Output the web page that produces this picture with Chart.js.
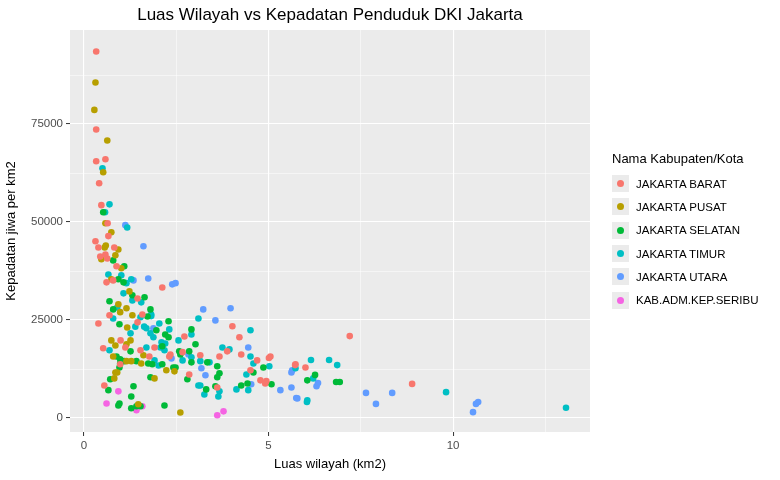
<!DOCTYPE html>
<html><head><meta charset="utf-8">
<script src="https://cdn.jsdelivr.net/npm/chart.js@4"></script>
<style>
body{margin:0;background:#fff;font-family:Arial,"Liberation Sans",sans-serif}
#wrap{position:relative;width:780px;height:480px}
#ttl{position:absolute;left:70px;width:520px;top:5px;text-align:center;font-size:17px;color:#000}
#lg{position:absolute;left:612px;top:151px;font-size:11.5px;color:#000}
#lg .t{font-size:13px;margin-bottom:6px}
#lg .r{display:flex;align-items:center;height:23.3px}
#lg .k{width:17px;height:17px;background:#EBEBEB;position:relative;margin-right:7px}
#lg .k i{position:absolute;left:5px;top:5px;width:7px;height:7px;border-radius:50%}
</style></head><body>
<div id="wrap"><canvas id="c" width="780" height="480"></canvas><div id="ttl">Luas Wilayah vs Kepadatan Penduduk DKI Jakarta</div><div id="lg"></div></div>
<script>
const seriesNames=["JAKARTA BARAT","JAKARTA PUSAT","JAKARTA SELATAN","JAKARTA TIMUR","JAKARTA UTARA","KAB.ADM.KEP.SERIBU"];
const seriesColors=["#F8766D","#B79F00","#00BA38","#00BFC4","#619CFF","#F564E3"];
const barat=[[0.33,93500],[0.33,73600],[0.58,66000],[0.33,65500],[0.41,59900],[0.47,54300],[0.64,49700],[0.66,46400],[0.31,45100],[0.39,43500],[0.82,43500],[0.44,41200],[0.63,40700],[0.58,41700],[0.88,38700],[0.61,34600],[0.79,35100],[2.12,33300],[1.45,30500],[1.58,26400],[0.69,26200],[0.39,24100],[1.45,24400],[0.99,19800],[2.72,20800],[1.12,18000],[0.52,17800],[1.53,17300],[1.91,18000],[1.77,15700],[2.31,15700],[2.34,16200],[2.67,16800],[0.98,13700],[2.85,11100],[0.55,8300],[4.02,23400],[4.21,20600],[3.88,17000],[3.15,16000],[3.67,15700],[4.26,16200],[4.69,14700],[5.05,15700],[6.00,12900],[5.73,13700],[4.51,12200],[4.78,9600],[4.91,8800],[4.94,9400],[3.61,7800],[7.2,20900],[8.89,8700],[5.01,15300],[5.72,13500]];
const pusat=[[0.31,85600],[0.28,78600],[0.63,70800],[0.52,62700],[0.58,49700],[0.74,47400],[0.56,43500],[0.59,44000],[0.93,43000],[0.85,41500],[0.47,40500],[1.01,38200],[0.74,35400],[1.23,32300],[0.93,29000],[1.15,28000],[0.98,27000],[1.31,26200],[1.17,23100],[0.74,19800],[1.26,19800],[0.85,18500],[1.15,18800],[0.79,15700],[1.61,16000],[1.15,14500],[1.28,14500],[1.55,13900],[2.23,12200],[2.45,11900],[0.85,11600],[0.90,11600],[0.82,10100],[1.91,10100],[1.47,3500],[2.61,1400]];
const selatan=[[0.52,52500],[0.79,40200],[1.09,38700],[0.93,35400],[1.07,34600],[1.31,31300],[1.64,30800],[0.69,29800],[0.79,27700],[1.80,27700],[1.72,25900],[0.96,23900],[2.29,24700],[1.96,22400],[2.20,21300],[2.29,20600],[1.26,17000],[2.12,18300],[0.88,15700],[0.98,15000],[0.98,13900],[1.09,14500],[0.96,12900],[1.42,14500],[1.74,13900],[1.85,13700],[2.12,13700],[2.42,12900],[2.48,12900],[2.58,17000],[2.61,16200],[2.85,17000],[0.71,9900],[1.80,10400],[2.80,9900],[0.66,7100],[1.34,8100],[0.96,3700],[0.93,3200],[1.28,5500],[1.28,2500],[1.42,3000],[1.53,3000],[2.18,3200],[2.91,22600],[3.02,18800],[2.91,14200],[3.34,14200],[3.61,13200],[3.67,11400],[3.61,10400],[4.86,12900],[4.59,11600],[4.43,8800],[4.26,8300],[5.08,8600],[3.56,8100],[3.31,7300],[6.05,9600],[6.83,9200],[6.93,9200],[6.26,11000]];
const timur=[[0.50,63700],[0.69,54500],[0.57,52500],[1.17,48600],[0.66,36600],[1.01,36400],[1.15,34400],[1.28,35400],[1.07,31800],[1.31,30000],[1.55,29500],[0.90,28200],[1.82,26400],[1.82,26000],[0.79,25400],[1.53,25700],[2.04,24100],[1.39,23300],[1.63,23300],[1.69,22900],[2.31,22600],[1.26,21600],[1.80,21600],[1.88,20600],[2.56,19800],[0.69,17300],[1.69,18000],[2.10,19300],[2.20,19000],[2.18,17300],[2.07,18000],[1.91,14700],[2.02,13400],[2.67,14700],[3.10,25400],[4.51,22400],[2.91,21300],[3.75,18000],[3.94,17500],[2.91,15500],[4.51,15700],[4.59,13900],[5.02,13200],[3.15,14500],[3.40,14200],[5.73,12700],[6.21,10100],[3.10,8300],[3.15,8300],[3.26,6000],[3.67,6800],[3.64,5500],[4.13,7300],[4.45,7100],[4.40,11100],[6.05,4500],[6.64,14800],[6.86,13500],[9.81,6600],[13.06,2600],[6.15,14800],[6.04,4100]];
const utara=[[1.12,49200],[1.61,43800],[1.34,35100],[1.74,35600],[2.39,34100],[2.48,34400],[1.88,22900],[2.37,15200],[3.23,27700],[3.97,28000],[3.56,24900],[4.45,18000],[2.83,16200],[3.18,12700],[3.29,10900],[4.53,8600],[5.62,11600],[5.32,7100],[5.62,7800],[5.78,5000],[6.30,8100],[7.64,6400],[7.91,3600],[8.35,6400],[10.54,1500],[10.62,3600],[10.68,4100],[5.64,12200],[6.34,8900],[5.75,5100]];
const seribu=[[0.93,6800],[0.61,3700],[1.42,2000],[1.58,3000],[3.61,700],[3.78,1700]];
const seriesData=[barat,pusat,selatan,timur,utara,seribu];
const xTicks=[0,2.5,5,7.5,10,12.5];
const yTicks=[0,12500,25000,37500,50000,62500,75000,87500];

const lg=document.getElementById('lg');
lg.innerHTML='<div class="t">Nama Kabupaten/Kota</div>'+seriesNames.map((n,i)=>`<div class="r"><div class="k"><i style="background:${seriesColors[i]}"></i></div>${n}</div>`).join('');

const bg={id:'bg',beforeDraw(c){const a=c.chartArea,x=c.ctx;x.save();x.fillStyle='#EBEBEB';x.fillRect(a.left,a.top,a.right-a.left,a.bottom-a.top);x.restore();}};
function isMajor(v,step){return Math.abs(v/step-Math.round(v/step))<1e-6;}
function axis(ticks,step,min,max,title,isY){
  return {type:'linear',min:min,max:max,
    afterBuildTicks(s){s.ticks=ticks.map(v=>({value:v}));},
    afterFit(s){if(isY)s.width=70;else s.height=48;},
    border:{display:false},
    grid:{color:'#fff',lineWidth:c=>isMajor(c.tick.value,step)?1.1:0.5,drawTicks:true,tickLength:4,
      tickColor:c=>isMajor(c.tick.value,step)?'#333':'rgba(0,0,0,0)',tickWidth:1},
    ticks:{color:'#4d4d4d',font:{size:11.5,family:'Arial'},padding:3,autoSkip:false,maxRotation:0,
      callback:v=>isMajor(v,step)?String(v):''},
    title:{display:true,text:title,color:'#000',font:{size:13,family:'Arial'},padding:{top:4,bottom:isY?2:8}}};
}
new Chart(document.getElementById('c'),{type:'scatter',
  data:{datasets:seriesData.map((d,i)=>({label:seriesNames[i],data:d.map(p=>({x:p[0],y:p[1]})),
    backgroundColor:seriesColors[i],borderWidth:0,pointRadius:3.3,pointHoverRadius:3.3}))},
  options:{responsive:false,animation:false,devicePixelRatio:1,
    layout:{padding:{top:30,right:190,left:0,bottom:0}},
    plugins:{legend:{display:false},tooltip:{enabled:false},title:{display:false}},
    scales:{x:axis(xTicks,5,-0.38,13.71,'Luas wilayah (km2)',false),
            y:axis(yTicks,25000,-3570,98980,'Kepadatan jiwa per km2',true)}},
  plugins:[bg]});
</script></body></html>
